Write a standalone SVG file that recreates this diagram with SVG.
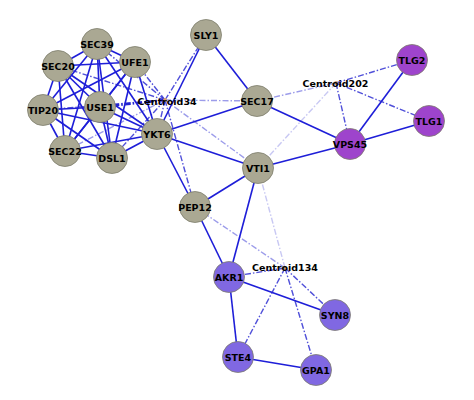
<svg xmlns="http://www.w3.org/2000/svg" width="474" height="400" viewBox="0 0 474 400">
<style>
.e{stroke:#1e1ed8;stroke-width:1.6;fill:none}
.d{stroke:#2424d0;stroke-width:1.4;stroke-dasharray:6,2,1.5,2;fill:none}
.m{stroke-opacity:0.8}
.l{stroke-opacity:0.45}
.v{stroke-opacity:0.25}
.n circle{stroke:#7e7d6c;stroke-width:0.8}
.g circle{fill:#aaa893}
.p circle{fill:#9e44cc}
.b circle{fill:#8068e2}
text{font-family:"DejaVu Sans",sans-serif;font-weight:bold;font-size:9.5px;text-anchor:middle;fill:#000}
</style>
<rect width="474" height="400" fill="#fff"/>
<g id="connectors">
<!-- cluster complete graph -->
<line class="e" x1="97" y1="44" x2="135" y2="62"/>
<line class="e" x1="97" y1="44" x2="58" y2="66"/>
<line class="e" x1="97" y1="44" x2="100" y2="107"/>
<line class="e" x1="97" y1="44" x2="43" y2="110"/>
<line class="e" x1="97" y1="44" x2="157" y2="134"/>
<line class="e" x1="97" y1="44" x2="65" y2="151"/>
<line class="e" x1="97" y1="44" x2="112" y2="158"/>
<line class="e" x1="135" y1="62" x2="58" y2="66"/>
<line class="e" x1="135" y1="62" x2="100" y2="107"/>
<line class="e" x1="135" y1="62" x2="43" y2="110"/>
<line class="e" x1="135" y1="62" x2="157" y2="134"/>
<line class="e" x1="135" y1="62" x2="65" y2="151"/>
<line class="e" x1="135" y1="62" x2="112" y2="158"/>
<line class="e" x1="58" y1="66" x2="100" y2="107"/>
<line class="e" x1="58" y1="66" x2="43" y2="110"/>
<line class="e" x1="58" y1="66" x2="157" y2="134"/>
<line class="e" x1="58" y1="66" x2="65" y2="151"/>
<line class="e" x1="58" y1="66" x2="112" y2="158"/>
<line class="e" x1="100" y1="107" x2="43" y2="110"/>
<line class="e" x1="100" y1="107" x2="157" y2="134"/>
<line class="e" x1="100" y1="107" x2="65" y2="151"/>
<line class="e" x1="100" y1="107" x2="112" y2="158"/>
<line class="e" x1="43" y1="110" x2="157" y2="134"/>
<line class="e" x1="43" y1="110" x2="65" y2="151"/>
<line class="e" x1="43" y1="110" x2="112" y2="158"/>
<line class="e" x1="157" y1="134" x2="65" y2="151"/>
<line class="e" x1="157" y1="134" x2="112" y2="158"/>
<line class="e" x1="65" y1="151" x2="112" y2="158"/>
<!-- other solid edges -->
<line class="e" x1="157" y1="134" x2="206" y2="35"/>
<line class="e" x1="157" y1="134" x2="257" y2="101"/>
<line class="e" x1="157" y1="134" x2="258" y2="168"/>
<line class="e" x1="157" y1="134" x2="195" y2="207"/>
<line class="e" x1="206" y1="35" x2="257" y2="101"/>
<line class="e" x1="257" y1="101" x2="350" y2="144"/>
<line class="e" x1="258" y1="168" x2="350" y2="144"/>
<line class="e" x1="258" y1="168" x2="195" y2="207"/>
<line class="e" x1="258" y1="168" x2="229" y2="277"/>
<line class="e" x1="195" y1="207" x2="229" y2="277"/>
<line class="e" x1="350" y1="144" x2="412" y2="60"/>
<line class="e" x1="350" y1="144" x2="429" y2="121"/>
<line class="e" x1="229" y1="277" x2="238" y2="357"/>
<line class="e" x1="229" y1="277" x2="335" y2="315"/>
<line class="e" x1="238" y1="357" x2="316" y2="370"/>
<!-- Centroid34 -->
<line class="d m" x1="165" y1="100" x2="97" y2="44"/>
<line class="d m" x1="165" y1="100" x2="135" y2="62"/>
<line class="d m" x1="165" y1="100" x2="58" y2="66"/>
<line class="d" x1="165" y1="100" x2="100" y2="107" style="stroke-width:2.4"/>
<line class="d m" x1="165" y1="100" x2="43" y2="110"/>
<line class="d m" x1="165" y1="100" x2="157" y2="134"/>
<line class="d l" x1="165" y1="100" x2="65" y2="151"/>
<line class="d m" x1="165" y1="100" x2="112" y2="158"/>
<line class="d m" x1="165" y1="100" x2="206" y2="35"/>
<line class="d l" x1="165" y1="100" x2="257" y2="101"/>
<line class="d l" x1="165" y1="100" x2="258" y2="168"/>
<line class="d m" x1="165" y1="100" x2="195" y2="207"/>
<!-- Centroid202 -->
<line class="d l" x1="336" y1="83" x2="257" y2="101"/>
<line class="d m" x1="336" y1="83" x2="412" y2="60"/>
<line class="d m" x1="336" y1="83" x2="429" y2="121"/>
<line class="d m" x1="336" y1="83" x2="350" y2="144"/>
<line class="d v" x1="336" y1="83" x2="258" y2="168"/>
<!-- Centroid134 -->
<line class="d m" x1="285" y1="268" x2="229" y2="277"/>
<line class="d m" x1="285" y1="268" x2="335" y2="315"/>
<line class="d m" x1="285" y1="268" x2="238" y2="357"/>
<line class="d m" x1="285" y1="268" x2="316" y2="370"/>
<line class="d l" x1="285" y1="268" x2="195" y2="207"/>
<line class="d v" x1="285" y1="268" x2="258" y2="168"/>
</g>
<g id="SEC39" class="n g"><circle cx="97" cy="44" r="15.5"/><text x="97" y="47.5">SEC39</text></g>
<g id="UFE1" class="n g"><circle cx="135" cy="62" r="15.5"/><text x="135" y="65.5">UFE1</text></g>
<g id="SEC20" class="n g"><circle cx="58" cy="66" r="15.5"/><text x="58" y="69.5">SEC20</text></g>
<g id="USE1" class="n g"><circle cx="100" cy="107" r="15.5"/><text x="100" y="110.5">USE1</text></g>
<g id="TIP20" class="n g"><circle cx="43" cy="110" r="15.5"/><text x="43" y="113.5">TIP20</text></g>
<g id="YKT6" class="n g"><circle cx="157" cy="134" r="15.5"/><text x="157" y="137.5">YKT6</text></g>
<g id="SEC22" class="n g"><circle cx="65" cy="151" r="15.5"/><text x="65" y="154.5">SEC22</text></g>
<g id="DSL1" class="n g"><circle cx="112" cy="158" r="15.5"/><text x="112" y="161.5">DSL1</text></g>
<g id="SLY1" class="n g"><circle cx="206" cy="35" r="15.5"/><text x="206" y="38.5">SLY1</text></g>
<g id="SEC17" class="n g"><circle cx="257" cy="101" r="15.5"/><text x="257" y="104.5">SEC17</text></g>
<g id="VTI1" class="n g"><circle cx="258" cy="168" r="15.5"/><text x="258" y="171.5">VTI1</text></g>
<g id="PEP12" class="n g"><circle cx="195" cy="207" r="15.5"/><text x="195" y="210.5">PEP12</text></g>
<g id="TLG2" class="n p"><circle cx="412" cy="60" r="15.5"/><text x="412" y="63.5">TLG2</text></g>
<g id="TLG1" class="n p"><circle cx="429" cy="121" r="15.5"/><text x="429" y="124.5">TLG1</text></g>
<g id="VPS45" class="n p"><circle cx="350" cy="144" r="15.5"/><text x="350" y="147.5">VPS45</text></g>
<g id="AKR1" class="n b"><circle cx="229" cy="277" r="15.5"/><text x="229" y="280.5">AKR1</text></g>
<g id="SYN8" class="n b"><circle cx="335" cy="315" r="15.5"/><text x="335" y="318.5">SYN8</text></g>
<g id="STE4" class="n b"><circle cx="238" cy="357" r="15.5"/><text x="238" y="360.5">STE4</text></g>
<g id="GPA1" class="n b"><circle cx="316" cy="370" r="15.5"/><text x="316" y="373.5">GPA1</text></g>
<g id="Centroid34"><circle cx="165" cy="100" r="2" fill="#d8a070"/><text x="167" y="104.5">Centroid34</text></g>
<g id="Centroid202"><circle cx="336" cy="83" r="2" fill="#d8a070"/><text x="335.5" y="86.5">Centroid202</text></g>
<g id="Centroid134"><circle cx="285" cy="268" r="2" fill="#d8a070"/><text x="285" y="271">Centroid134</text></g>
</svg>
